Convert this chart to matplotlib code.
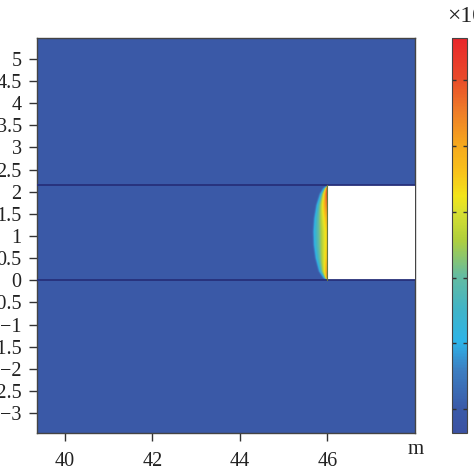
import numpy as np
import matplotlib
matplotlib.use("Agg")
import matplotlib.pyplot as plt
from matplotlib.colors import LinearSegmentedColormap
from matplotlib.patches import Rectangle

plt.rcParams['font.family'] = ['Liberation Serif', 'DejaVu Serif']

# ---- data ----
x_range = [39.36, 48.0]
y_range = [-3.45, 5.47]
x_ticks = [40, 42, 44, 46]
y_ticks = [5, 4.5, 4, 3.5, 3, 2.5, 2, 1.5, 1, 0.5, 0, -0.5, -1, -1.5, -2, -2.5, -3]
channel_bottom = 0.0
channel_top = 2.14
wall_x = 46.0
block_right = 48.0
# crescent (pressure front) ahead of the block face
profile_y = [0.0, 0.05, 0.2, 0.5, 0.8, 1.1, 1.4, 1.7, 1.95, 2.07, 2.14]
profile_width = [0.0, 0.07, 0.17, 0.25, 0.29, 0.30, 0.28, 0.23, 0.15, 0.08, 0.0]
profile_wall_value = [2.5, 2.5, 2.2, 1.9, 1.8, 1.8, 2.0, 2.4, 2.7, 2.8, 2.8]
edge_value = 0.55
cbar_ticks = [0, 0.5, 1.0, 1.5, 2.0, 2.5]
vmin, vmax = -0.18, 2.82

cmap_pos = [0.0, 0.06, 0.16, 0.23, 0.31, 0.40, 0.49, 0.56, 0.60, 0.66, 0.73, 0.82, 0.90, 1.0]
cmap_col = ['#3B52A3', '#3A5AA8', '#3C7FC2', '#2DB4E8', '#3FB4C8', '#66BC9F', '#B0CF3C',
            '#D8E030', '#F2E41A', '#F8C21A', '#F5A81E', '#EE7A28', '#E84A2A', '#E8262A']
cmap = LinearSegmentedColormap.from_list('rainbow_comsol', list(zip(cmap_pos, cmap_col)))

# ---- field ----
nx, ny = 900, 900
xs = np.linspace(x_range[0], x_range[1], nx)
ys = np.linspace(y_range[0], y_range[1], ny)
X, Y = np.meshgrid(xs, ys)
Z = np.zeros_like(X)
inside = (Y >= channel_bottom) & (Y <= channel_top) & (X <= wall_x)
w = np.interp(Y, profile_y, profile_width)
v0 = np.interp(Y, profile_y, profile_wall_value)
d = wall_x - X
frac = np.clip(1 - d / np.maximum(w, 1e-6), 0, 1)
core = inside & (d <= w)
Z[core] = (edge_value + (v0 - edge_value) * frac ** 0.9)[core]
soft = 0.05
halo = inside & (d > w) & (d <= w + soft) & (w > 0.02)
Z[halo] = (edge_value * (1 - (d - w) / soft))[halo]

fig = plt.figure(figsize=(4.74, 4.74), dpi=100)
ax = fig.add_axes([37 / 474, 1 - 433 / 474, 378 / 474, 395 / 474])
ax.imshow(Z, extent=[x_range[0], x_range[1], y_range[0], y_range[1]], origin='lower',
          cmap=cmap, vmin=vmin, vmax=vmax, aspect='auto', interpolation='bilinear')
ax.add_patch(Rectangle((wall_x, channel_bottom), block_right - wall_x, channel_top - channel_bottom,
                       facecolor='white', edgecolor='none', zorder=3))
for yl in [channel_bottom, channel_top]:
    ax.plot(x_range, [yl, yl], color='#27307A', lw=1.3, zorder=4)
ax.plot([wall_x, wall_x], [channel_bottom, channel_top], color='#6a7a3a', lw=0.8, zorder=4)
ax.set_xlim(x_range)
ax.set_ylim(y_range)
ax.set_xticks(x_ticks)
ax.set_yticks(y_ticks)
ax.set_xticklabels([str(t) for t in x_ticks])
ax.set_yticklabels([('%g' % t).replace('-', '\u2212') for t in y_ticks])
ax.tick_params(direction='out', length=6, width=1, colors='#333333', labelsize=14.5,
               labelcolor='#222222')
ax.tick_params(axis='x', pad=8)
ax.tick_params(axis='y', pad=5)
for s in ax.spines.values():
    s.set_color('#444444')
    s.set_linewidth(1)
fig.text(416 / 474, 1 - 450 / 474, 'm', ha='center', va='center', fontsize=15, color='#222222')

cax = fig.add_axes([452 / 474, 1 - 433 / 474, 15 / 474, 395 / 474])
sm = plt.cm.ScalarMappable(cmap=cmap, norm=plt.Normalize(vmin, vmax))
cb = fig.colorbar(sm, cax=cax, ticks=cbar_ticks)
cb.outline.set_edgecolor('#444444')
cax.tick_params(direction='in', length=3, width=1, left=True, right=True,
                labelright=False, colors='#333333')
fig.text(447 / 474, 1 - 17 / 474, '\u00d710', ha='left', va='center', fontsize=17, color='#222222')

fig.savefig('out.png', dpi=100)
